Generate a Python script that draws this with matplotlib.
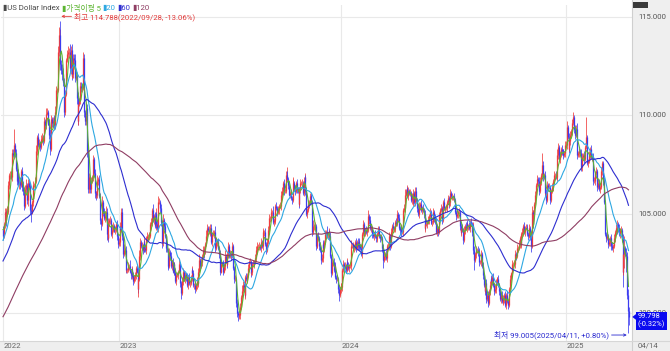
import numpy as np
import pandas as pd
import matplotlib
matplotlib.use("Agg")
import matplotlib.pyplot as plt
from matplotlib.patches import Rectangle, Polygon
from matplotlib.lines import Line2D
from matplotlib.transforms import blended_transform_factory, IdentityTransform

# ---------------- data (daily closes) ----------------
# closes before the first visible candle (needed for the moving averages)
pre_closes = [
    95.6, 94.9, 94.9, 95.2, 95.2, 95.7, 95.5, 95.8, 95.6, 95.9, 96.0, 96.5, 97.2, 97.3, 96.5,
    96.3, 95.9, 95.4, 95.5, 95.5, 95.6, 95.6, 95.5, 96.0, 96.1, 96.3, 96.0, 95.8, 95.9, 96.0, 96.1, 96.0, 96.2, 97.0, 96.7,
    97.4, 97.4, 97.8, 98.6, 99.3, 99.0, 98.0, 98.5, 99.1, 99.0, 98.9, 98.4, 98.2, 98.3, 98.5, 98.8, 98.7, 98.8, 99.1, 98.4, 98.0, 98.0, 98.3,
    98.6, 99.0, 99.5, 99.6, 99.8, 99.8, 100.0, 99.9, 100.5, 100.4, 100.5, 100.9, 100.9, 100.4, 100.6, 101.1, 101.8, 102.5, 103.0, 103.4, 103.2,
    103.6, 103.5, 102.6, 103.6, 103.7, 104.2, 103.9, 104.0, 104.8, 104.6, 104.1, 103.3, 103.8, 102.8, 102.9, 102.2, 101.9, 102.1, 101.8, 101.7, 101.6, 101.8,
    102.6, 102.5, 102.1, 102.4, 102.3, 102.6, 103.2, 104.2, 105.0, 105.5, 105.2, 103.8, 104.7, 104.5, 104.4, 104.2, 104.4, 104.2,
]
closes_2022 = [
    103.9, 104.5, 105.1, 104.7,
    105.1, 105.1, 106.5, 107.0, 107.0, 106.9, 108.0, 108.1, 108.0, 108.5, 108.1, 107.3, 106.7, 107.1, 106.6, 106.7, 106.5, 107.2, 106.4, 106.2, 105.9,
    105.4, 106.3, 106.5, 105.7, 106.6, 106.4, 106.4, 105.2, 105.1, 105.6, 106.5, 106.5, 106.7, 107.5, 108.2, 108.9, 108.5, 108.6, 108.4, 108.8, 108.8, 108.8, 108.7,
    109.7, 109.5, 110.1, 110.2, 109.8, 109.7, 109.0, 108.3, 109.8, 109.6, 109.7, 109.8, 109.5, 110.2, 111.3, 111.3, 113.2, 114.1, 114.1, 112.6, 112.3, 112.1,
    111.7, 110.2, 111.1, 112.2, 112.8, 113.1, 113.2, 113.2, 112.4, 113.3, 112.0, 112.1, 112.9, 112.8, 111.9, 112.0, 110.9, 109.7, 110.6, 110.8, 111.5,
    111.4, 111.4, 112.9, 110.8, 110.2, 109.7, 110.4, 108.2, 106.3, 106.9, 106.4, 106.3, 106.7, 106.9, 107.8, 107.1, 106.1, 105.9, 106.0, 106.7, 106.8, 105.9,
    104.7, 104.5, 105.3, 105.6, 105.1, 104.8, 104.9, 105.1, 104.0, 103.8, 104.6, 104.7, 104.7, 104.0, 104.2, 104.4, 104.3, 104.2, 104.2, 104.5, 103.9, 103.5,
]
closes_2023 = [
    103.6, 104.3, 104.2, 105.1, 103.9, 103.0, 103.2, 103.2, 102.2, 102.2, 102.2, 102.4, 102.4, 102.1, 101.9, 102.2, 101.9, 101.6, 101.8, 101.9, 102.3, 102.1,
    101.2, 101.7, 102.9, 103.6, 103.4, 103.4, 103.2, 103.6, 103.3, 103.2, 103.8, 103.9, 103.9, 103.9, 104.2, 104.5, 104.6, 105.2, 104.7, 104.9,
    104.4, 105.0, 104.5, 104.3, 105.6, 105.6, 105.3, 104.6, 103.6, 103.6, 104.7, 104.4, 103.9, 103.3, 103.2, 102.5, 102.4, 103.1, 102.9, 102.4, 102.6, 102.1, 102.5,
    102.1, 101.6, 101.9, 101.9, 102.1, 102.5, 102.2, 101.5, 101.0, 101.6, 102.1, 101.7, 101.9, 101.9, 101.8, 101.4, 101.8, 101.5, 101.5, 101.7,
    102.2, 102.0, 101.4, 101.4, 101.2, 101.4, 101.6, 101.5, 102.1, 102.7, 102.4, 102.6, 102.9, 103.2, 103.0, 103.2, 103.5, 103.9, 104.3, 104.2, 104.2, 104.1, 104.3,
    103.6, 104.0, 104.0, 104.1, 103.9, 103.3, 103.6, 103.6, 103.3, 103.0, 102.1, 102.3, 102.5, 102.5, 102.1, 102.4, 102.9, 102.7, 102.5, 103.0, 103.4, 102.9,
    103.0, 102.9, 103.4, 103.2, 102.3, 101.7, 101.7, 100.5, 100.0, 99.9, 99.9, 99.9, 100.3, 100.8, 101.1, 101.4, 101.3, 100.9, 101.8, 101.7, 101.9,
    102.3, 102.6, 102.6, 102.0, 102.1, 102.5, 102.5, 102.6, 102.8, 103.2, 103.2, 103.4, 103.4, 103.4, 103.3, 103.6, 103.4, 103.9, 104.1, 104.1, 103.5, 103.2, 103.6,
    104.2, 104.2, 104.8, 104.8, 105.1, 105.1, 104.6, 104.7, 104.7, 105.4, 105.3, 105.1, 105.2, 105.4, 105.4, 105.6, 106.0, 106.2, 106.6, 106.2, 106.2,
    107.0, 107.0, 106.8, 106.5, 106.0, 106.1, 105.8, 105.7, 106.6, 106.6, 106.3, 106.2, 106.6, 106.3, 106.2, 105.5, 106.3, 106.6, 106.6, 106.6, 106.1, 106.7,
    106.9, 106.2, 105.0, 105.2, 105.5, 105.6, 105.9, 105.9, 105.6, 104.1, 104.4, 104.4, 104.4, 103.4, 103.5, 103.9, 103.8, 103.4, 103.2, 102.7, 102.8, 103.5,
    103.3, 103.6, 104.0, 104.1, 104.0, 104.0, 104.1, 103.9, 102.9, 102.0, 102.6, 102.6, 102.2, 102.4, 101.8, 101.7, 101.7, 101.2, 100.9, 101.2, 101.3,
]
closes_2024 = [
    101.3, 102.2, 102.5, 102.4, 102.4, 102.2, 102.6, 102.4, 102.3, 102.4, 102.4, 103.4, 103.4, 103.4, 103.3, 103.3, 103.6, 103.3, 103.6, 103.4, 103.6, 103.4, 103.3,
    103.0, 104.0, 104.5, 104.1, 104.1, 104.2, 104.1, 104.2, 104.9, 104.7, 104.3, 104.3, 104.3, 104.0, 103.9, 104.0, 103.9, 103.8, 103.8, 104.0, 104.2,
    103.9, 103.8, 103.8, 103.3, 102.8, 102.7, 102.9, 103.0, 102.8, 103.4, 103.4, 103.6, 103.9, 103.4, 104.1, 104.4, 104.3, 104.3, 104.3, 104.6, 104.5,
    105.0, 104.8, 104.3, 104.2, 104.3, 104.1, 104.1, 105.2, 105.3, 106.0, 106.2, 106.3, 105.9, 106.2, 106.1, 106.1, 105.7, 105.9, 105.6, 106.1, 105.6, 106.2,
    105.7, 105.3, 105.0, 105.1, 105.4, 105.5, 105.2, 105.3, 105.2, 105.0, 104.3, 104.5, 104.5, 104.6, 104.7, 104.9, 105.1, 104.7, 104.6, 104.6, 105.1, 104.8, 104.6,
    104.1, 104.2, 104.3, 104.1, 104.9, 105.2, 105.3, 104.7, 105.2, 105.6, 105.3, 105.3, 105.3, 105.6, 105.8, 105.5, 105.6, 106.1, 105.9, 105.9,
    105.9, 105.7, 105.4, 105.1, 104.9, 105.0, 105.1, 105.1, 104.4, 104.1, 104.3, 104.2, 103.7, 104.2, 104.4, 104.3, 104.5, 104.4, 104.4, 104.3, 104.6, 104.5, 104.1,
    104.4, 103.2, 102.7, 103.0, 103.2, 103.2, 103.1, 103.1, 102.6, 102.6, 103.0, 102.4, 101.9, 101.4, 101.1, 101.5, 100.7, 100.9, 100.5, 101.1, 101.4, 101.7,
    101.6, 101.8, 101.4, 101.1, 101.2, 101.6, 101.6, 101.7, 101.4, 101.1, 100.7, 100.9, 100.6, 100.6, 100.7, 100.9, 100.4, 100.9, 100.6, 100.4, 100.8,
    101.2, 101.7, 102.0, 102.5, 102.5, 102.5, 102.9, 103.0, 102.9, 103.3, 103.3, 103.5, 103.8, 103.5, 104.0, 104.1, 104.4, 104.1, 104.3, 104.3, 104.3, 104.0, 103.9,
    104.3, 103.9, 103.4, 105.1, 104.5, 105.0, 105.5, 106.0, 106.5, 106.8, 106.7, 106.3, 106.2, 106.7, 107.0, 107.5, 106.9, 107.0, 106.1, 106.1, 105.7,
    106.5, 106.4, 106.4, 105.7, 106.0, 106.2, 106.4, 106.7, 107.0, 107.0, 106.9, 106.9, 108.0, 108.4, 107.8, 108.0, 108.3, 108.2, 108.1, 108.0, 108.1, 108.5,
]
closes_2025 = [
    108.5, 109.4, 108.9, 108.3, 108.7, 109.0, 109.2, 109.6, 109.9, 109.3, 109.1, 109.0, 109.3, 108.0, 108.1, 108.2, 108.1, 107.4, 107.4, 107.9, 108.0, 107.8, 108.4,
    108.9, 108.0, 107.6, 107.7, 108.0, 108.3, 107.9, 107.9, 107.3, 106.7, 106.7, 107.1, 107.2, 106.4, 106.6, 106.6, 106.3, 106.4, 107.2, 107.6,
    106.7, 105.6, 104.3, 104.0, 103.8, 103.9, 103.5, 103.6, 103.8, 103.7, 103.4, 103.3, 103.4, 103.8, 104.1, 104.3, 104.2, 104.5, 104.3, 104.0, 104.2,
    104.2, 103.8, 102.1, 103.0, 103.3, 103.0, 102.9, 100.9, 100.1, 99.8,
]
# upper / lower shadow lengths beyond the body, in tenths of an index point
up_2022 = [2,1,2,1,
    2,3,2,1,2,2,1,2,2,8, 1,2,3,1,2,1,2,1,2,3, 2,
    1,2,3,1,2,2,1,2,3,1, 2,1,2,2,3,1,2,2,1,2, 3,1,2,
    2,1,3,2,1,2,1,3,2,1, 2,1,2,3,2,1,3,4,3,7, 2,3,
    3,2,2,3,1,2,3,2,4,2, 3,1,2,2,3,1,2,3,2,1, 2,
    2,1,3,2,2,1,3,2,3,2, 1,3,2,1,2,1,2,1,2,3, 1,2,
    2,1,2,3,1,2,2,3,2,1, 2,1,2,1,3,2,1,1,2,1, 2,1]
dn_2022 = [2,1,2,3,
    1,2,1,2,2,1,2,2,1,2, 2,1,2,2,1,3,2,1,2,2, 1,
    2,1,2,2,3,1,2,2,5,1, 2,1,2,1,2,2,1,2,2,1, 2,1,2,
    1,2,2,1,3,2,2,3,1,2, 2,1,2,2,1,2,1,2,4,3, 2,3,
    2,3,2,1,2,1,2,3,2,3, 2,1,2,2,2,1,3,2,2,1, 2,
    2,2,1,2,3,2,2,3,2,2, 1,2,2,1,2,2,3,2,1,2, 2,1,
    2,3,1,2,2,1,2,2,3,2, 1,2,2,1,2,1,2,1,2,1, 2,2]
up_2023 = [
    2,3,1,2,2,1,3,1,2,2, 1,2,1,3,1,2,1,2,1,2, 1,2,
    2,1,3,2,1,2,1,2,1,2, 1,2,1,2,2,1,2,1,3,1,
    2,3,1,2,3,2,1,2,1,2, 3,1,2,1,2,1,2,2,1,2, 1,2,1,
    1,2,1,2,1,3,1,2,1,2, 2,1,2,1,1,2,1,2,1,2,
    2,1,2,1,2,1,2,1,2,3, 1,2,1,2,1,2,1,3,2,1, 2,1,2,
    2,1,2,1,3,1,2,1,2,1, 2,1,2,1,2,1,3,1,2,1, 2,1,
    2,1,2,1,2,1,2,1,2,1, 2,1,2,1,3,2,1,2,1,2, 1,
    2,1,2,1,2,1,2,1,2,2, 1,2,1,2,1,2,1,3,2,1, 2,1,2,
    2,1,2,1,2,1,3,1,2,1, 2,1,2,1,2,1,2,2,1,2, 1,
    2,4,2,1,2,1,2,1,3,2, 1,2,1,2,1,2,1,2,1,2, 1,2,
    2,1,2,1,2,1,2,1,2,1, 3,1,2,1,2,1,2,1,2,1, 2,1,
    2,1,2,1,3,1,2,1,2,1, 2,1,2,1,2,1,2,1,2,1, 2]
dn_2023 = [
    1,2,2,1,2,2,1,2,2,1, 2,1,2,1,2,2,1,2,1,2, 2,1,
    2,4,1,2,1,2,2,1,2,1, 2,1,2,2,1,2,1,2,1,2,
    1,2,2,1,2,1,2,2,3,1, 2,2,1,2,1,2,2,1,2,1, 2,1,2,
    2,1,2,1,2,1,2,2,3,1, 2,1,2,1,2,1,2,1,2,1,
    1,2,1,2,2,1,2,1,2,1, 2,1,2,1,2,1,2,1,2,1, 2,1,2,
    1,2,1,2,1,2,1,2,1,2, 2,1,2,1,2,1,2,1,2,1, 2,1,
    1,2,1,2,1,2,1,2,2,3, 2,1,2,1,2,1,2,1,2,1, 2,
    1,2,1,2,1,2,1,2,1,2, 1,2,1,2,1,2,1,2,1,2, 1,2,1,
    1,2,1,2,1,2,1,2,1,2, 1,2,1,2,1,2,1,2,1,2, 1,
    1,2,1,2,1,2,1,2,1,2, 1,2,1,2,1,2,1,2,1,2, 1,2,
    1,2,1,2,1,2,1,2,1,2, 1,2,1,2,1,2,1,2,1,2, 1,2,
    1,2,1,2,1,2,1,2,1,2, 1,2,1,2,1,2,1,2,3,1, 2]
up_2024 = [
    2,1,2,1,2,1,2,1,2,1, 2,3,1,2,1,2,1,2,1,2, 1,2,1,
    2,1,2,1,2,1,2,1,3,1, 2,1,2,1,2,1,2,1,2,1, 2,
    2,1,2,1,2,1,2,1,2,1, 2,1,2,1,2,1,2,1,2,1, 2,
    2,1,2,1,2,1,2,1,2,3, 1,2,1,2,1,2,1,2,1,2, 1,2,
    2,1,2,1,2,1,2,1,2,1, 2,1,2,1,2,1,2,1,2,1, 2,1,2,
    2,1,2,1,2,1,2,1,2,1, 2,1,2,1,2,1,2,2,1,2,
    1,2,1,2,1,2,1,2,1,2, 1,2,1,2,1,2,1,2,1,2, 1,2,1,
    2,1,2,1,2,1,2,1,2,1, 2,1,2,1,2,1,2,1,2,1, 2,1,
    2,1,2,1,2,1,2,1,2,1, 2,1,2,1,2,1,2,1,2,1, 2,
    1,2,1,2,1,2,1,2,1,2, 1,2,1,2,1,2,1,2,1,2, 1,2,1,
    2,1,2,3,1,2,1,2,1,2, 1,2,1,2,1,6,2,1,2,1, 2,
    2,1,2,1,2,1,2,1,2,1, 2,1,3,2,1,2,1,2,1,2, 1,2]
dn_2024 = [
    1,2,1,2,1,2,1,2,1,2, 1,2,1,2,1,2,1,2,1,2, 1,2,1,
    1,2,1,2,1,2,1,2,1,2, 1,2,1,2,1,2,1,2,1,2, 1,
    1,2,1,2,1,4,1,2,1,2, 1,2,1,2,1,2,1,2,1,2, 1,
    1,2,1,2,1,2,1,2,1,2, 1,2,1,2,1,2,1,2,1,2, 1,2,
    1,2,1,2,1,2,1,2,1,2, 1,2,1,2,1,2,1,2,1,2, 1,2,1,
    1,2,1,2,1,2,1,2,1,2, 1,2,1,2,1,2,1,2,1,2,
    2,1,2,1,2,1,2,1,2,1, 2,1,2,1,2,1,2,1,2,1, 2,1,2,
    1,2,5,1,2,1,2,1,2,1, 2,1,2,1,2,1,2,1,2,1, 2,1,
    1,2,1,2,1,2,1,2,1,2, 1,2,1,2,1,2,1,2,1,2, 1,
    2,1,2,1,2,1,2,1,2,1, 2,1,2,1,2,1,2,1,2,1, 2,1,2,
    1,2,3,1,2,1,2,1,2,1, 2,1,2,1,2,1,2,1,2,1, 2,
    1,2,1,2,1,2,1,2,1,2, 1,2,1,2,1,2,1,2,1,2, 1,2]
up_2025 = [
    2,3,1,2,1,2,1,2,3,1, 2,1,2,3,1,2,1,2,1,2, 1,2,1,
    10,1,2,1,2,1,2,1,2,1, 2,1,2,1,2,1,2,1,2,1,
    1,2,1,2,1,2,1,2,1,2, 1,2,1,2,1,2,1,2,1,2, 1,
    2,1,2,2,6,1,3,2,3,2]
dn_2025 = [
    1,2,1,2,1,2,1,2,1,2, 1,2,1,2,1,2,1,2,1,2, 1,2,1,
    1,2,1,2,1,2,1,2,1,2, 1,2,1,2,1,2,1,2,1,2,
    2,1,2,1,2,1,2,1,2,1, 2,1,2,1,2,1,2,1,2,1, 2,
    1,2,8,2,7,1,8,2,11,4]

last_date = "2025-04-14"
title = "US Dollar Index"
ma_windows = [5, 20, 60, 120]
ma_names = ["가격이평 5", "20", "60", "120"]
y_ticks = [100, 105, 110, 115]
last_tick_label = "04/14"
high_label = "최고 114.788(2022/09/28, -13.06%)"
low_label = "최저 99.005(2025/04/11, +0.80%)"
last_price_label = "99.798"
last_change_label = "(-0.32%)"

# ---------------- prepare ----------------
all_closes = np.array(pre_closes + closes_2022 + closes_2023 + closes_2024 + closes_2025, dtype=float)
npre = len(pre_closes)
vis = all_closes[npre:]
opens = all_closes[npre - 1:-1]
ups = np.array(up_2022 + up_2023 + up_2024 + up_2025, dtype=float) * 0.1
dns = np.array(dn_2022 + dn_2023 + dn_2024 + dn_2025, dtype=float) * 0.1
n = min(len(vis), len(ups), len(dns))
vis, opens, ups, dns = vis[:n], opens[:n], ups[:n], dns[:n]
body_lo = np.minimum(opens, vis)
body_hi = np.maximum(opens, vis)
highs = body_hi + ups
lows = body_lo - dns
x = np.arange(n)
dates = pd.bdate_range(end=last_date, periods=n)
s = pd.Series(all_closes[:npre + n])
mas = [s.rolling(w).mean().values[npre:] for w in ma_windows]

RED = "#f03c3c"
BLUE = "#3c3cf0"
ma_colors = ["#5db532", "#2ea8e2", "#2e2ed0", "#8f3d63"]
FONT = ["Roboto", "DejaVu Sans", "Noto Sans CJK KR"]
plt.rcParams["font.family"] = FONT
FS = 5.6

# ---------------- figure ----------------
W, H = 670, 351
fig = plt.figure(figsize=(W / 100, H / 100), dpi=100)
fig.patch.set_facecolor("white")
PL, PR, PT, PB = 1, 632, 5, 341
ax = fig.add_axes([PL / W, 1 - PB / H, (PR - PL) / W, (PB - PT) / H])
ax.set_axis_off()
step = (628.5 - 3) / (n - 1)
ax.set_xlim((PL - 3) / step, (PR - 3) / step)
ax.set_ylim(100 + (313 - PB) / 19.75, 100 + (313 - PT) / 19.75)

GRID = "#e9e9e9"
for v in y_ticks:
    ax.axhline(v, color=GRID, lw=0.8, zorder=0)
year_starts = [0] + [i for i in range(1, n) if dates[i].year != dates[i - 1].year]
for i in year_starts:
    ax.axvline(i, color=GRID, lw=0.8, zorder=0)

up_mask = vis >= opens
cols = np.where(up_mask, RED, BLUE)
ax.vlines(x, lows, highs, colors=cols, lw=0.55, zorder=2)
ax.vlines(x, body_lo, body_hi, colors=cols, lw=0.9, zorder=2)

for m, c in zip(mas, ma_colors):
    ax.plot(x, m, color=c, lw=0.8, zorder=3)

# high / low annotations
imax = int(np.argmax(highs))
imin = int(np.argmin(lows))
ax.annotate(high_label, xy=(imax + 1, highs[imax] + 0.22), xytext=(13, 0),
            textcoords="offset pixels", ha="left", va="center", fontsize=FS,
            color="#e23a3a", annotation_clip=False,
            arrowprops=dict(arrowstyle="->,head_length=0.3,head_width=0.15",
                            color="#e23a3a", lw=0.6, shrinkA=0, shrinkB=0))
ax.annotate(low_label, xy=(imin - 1, lows[imin] - 0.115), xytext=(-18, 0),
            textcoords="offset pixels", ha="right", va="center", fontsize=FS,
            color="#2a2ad0", annotation_clip=False,
            arrowprops=dict(arrowstyle="->,head_length=0.3,head_width=0.15",
                            color="#2a2ad0", lw=0.6, shrinkA=0, shrinkB=0))

# right scale panel and bottom band
fig.add_artist(Rectangle((PR / W, 1 - PB / H), (W - PR) / W, PB / H, transform=fig.transFigure,
                         facecolor="#efefef", edgecolor="none", zorder=1))
fig.add_artist(Rectangle((0, 0), 1, (H - PB) / H, transform=fig.transFigure,
                         facecolor="#eeeeee", edgecolor="none", zorder=1))
fig.add_artist(Line2D([PR / W, PR / W], [0, 1], transform=fig.transFigure, color="#cfcfcf", lw=0.8, zorder=2))
fig.add_artist(Line2D([0, 1], [(H - PB) / H, (H - PB) / H], transform=fig.transFigure, color="#d6d6d6", lw=0.8, zorder=2))
fig.add_artist(Rectangle((633 / W, 1 - 8 / H), 15 / W, 6 / H, transform=fig.transFigure,
                         facecolor="#3a3a3a", edgecolor="none", zorder=2))

ytr = blended_transform_factory(fig.transFigure, ax.transData)
for v in y_ticks:
    fig.text(638 / W, v, f"{v:.3f}", transform=ytr, ha="left", va="center",
             fontsize=FS, color="#555555", zorder=3)

xtr = blended_transform_factory(ax.transData, fig.transFigure)
for i in year_starts:
    fig.text(i + 0.6, (H - 346) / H, str(dates[i].year), transform=xtr, ha="left", va="center",
             fontsize=FS, color="#666666", zorder=3)
fig.text(638 / W, (H - 346) / H, last_tick_label, ha="left", va="center", fontsize=FS, color="#666666", zorder=3)

# last price box
py = ax.transData.transform((0, vis[-1]))[1]
fig.add_artist(Rectangle((636.0, py - 12.8), 31.0, 18.2, transform=IdentityTransform(),
                         facecolor="#0a0af0", edgecolor="none", zorder=5))
fig.add_artist(Polygon([(632.3, py), (636.2, py + 3), (636.2, py - 3)], closed=True,
                       transform=IdentityTransform(), facecolor="#0a0af0", edgecolor="none", zorder=5))
fig.text(637.5, py + 0.5, last_price_label, transform=IdentityTransform(), ha="left", va="center",
         fontsize=5.4, color="white", zorder=6)
fig.text(637.5, py - 8, last_change_label, transform=IdentityTransform(), ha="left", va="center",
         fontsize=5.4, color="white", zorder=6)

# legend
renderer = fig.canvas.get_renderer()
items = [(title, "#4a4a4a")] + list(zip(ma_names, ma_colors))
xpx = 3
for label, col in items:
    t = fig.text(xpx / W, 1 - 8 / H, "\u25ae" + label, color=col, fontsize=FS,
                 ha="left", va="center", zorder=3)
    bb = t.get_window_extent(renderer=renderer)
    xpx = bb.x1 + 2

fig.savefig("out.png", dpi=100)
